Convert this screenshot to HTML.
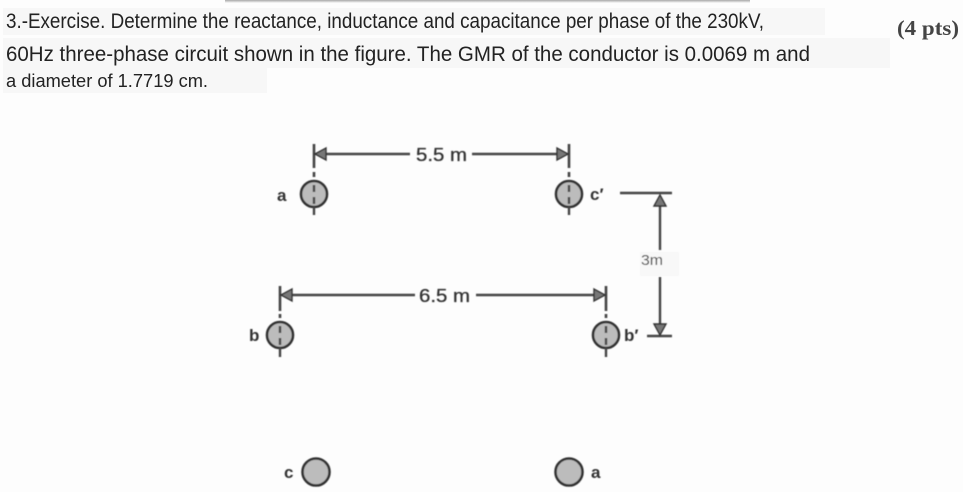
<!DOCTYPE html>
<html>
<head>
<meta charset="utf-8">
<style>
html,body{margin:0;padding:0;background:#fdfdfd}
svg{display:block}
text{font-family:"Liberation Sans",sans-serif;fill:#222}
.b{font-weight:bold;fill:#333}
</style>
</head>
<body>
<svg width="963" height="492" viewBox="0 0 963 492" xmlns="http://www.w3.org/2000/svg">
<defs>
<linearGradient id="s" x1="0" y1="0" x2="0" y2="1"><stop offset="0" stop-color="#a8a8a8"/><stop offset="1" stop-color="#fdfdfd"/></linearGradient>
<filter id="f" x="-5%" y="-5%" width="110%" height="110%"><feGaussianBlur stdDeviation="0.45"/></filter>
<filter id="t" x="-5%" y="-20%" width="110%" height="140%"><feGaussianBlur stdDeviation="0.3"/></filter>
</defs>
<rect width="963" height="492" fill="#fdfdfd"/>
<rect x="225" y="0" width="525" height="3" fill="url(#s)"/>
<rect x="3" y="8" width="822" height="27" fill="#f7f7f7"/>
<rect x="3" y="38" width="887" height="30" fill="#f7f7f7"/>
<rect x="3" y="68" width="264" height="25" fill="#f7f7f7"/>

<g filter="url(#t)">
<text x="6" y="28" font-size="21" textLength="758" lengthAdjust="spacingAndGlyphs">3.-Exercise. Determine the reactance, inductance and capacitance per phase of the 230kV,</text>
<text x="6" y="61" font-size="21.5" textLength="804" lengthAdjust="spacingAndGlyphs">60Hz three-phase circuit shown in the figure. The GMR of the conductor is 0.0069 m and</text>
<text x="6" y="87" font-size="18" textLength="202" lengthAdjust="spacingAndGlyphs">a diameter of 1.7719 cm.</text>
<text x="897" y="35" font-size="21" font-weight="bold" textLength="62" lengthAdjust="spacingAndGlyphs" style="font-family:'Liberation Serif',serif;fill:#444">(4 pts)</text>
</g>

<g filter="url(#f)">
<g stroke="#444" fill="none">
  <path d="M314 144V168M314 172V177" stroke-width="2.6"/>
  <path d="M569 144V168M569 172V177" stroke-width="2.6"/>
  <path d="M325 154H410M472 154H558" stroke-width="2.4"/>
  <path d="M280 286V311M280 314V318" stroke-width="2.6"/>
  <path d="M606 286V311M606 314V318" stroke-width="2.6"/>
  <path d="M292 295H415M476 295H595" stroke-width="2.4"/>
  <path d="M620 193H672" stroke-width="2.4"/>
  <path d="M647 336H672" stroke-width="2.4"/>
  <path d="M660 205V250M660 277V325" stroke-width="2.4"/>
</g>
<g fill="#777" stroke="#333" stroke-width="1.4">
  <path d="M315 154L326 148V160Z"/>
  <path d="M568 154L557 148V160Z"/>
  <path d="M281 295L292 289V301Z"/>
  <path d="M605 295L594 289V301Z"/>
  <path d="M660 195L654 206H666Z"/>
  <path d="M660 335L654 324H666Z"/>
</g>

<g fill="#bcbcbc" stroke="#333" stroke-width="2.6">
  <circle cx="314" cy="194" r="13"/>
  <circle cx="569" cy="194" r="13"/>
  <circle cx="280" cy="335" r="13"/>
  <circle cx="606" cy="335" r="13"/>
  <circle cx="316" cy="472" r="13.5"/>
  <circle cx="569" cy="472" r="13.5"/>
</g>
<g stroke="#444" stroke-width="2.4" fill="none">
  <path d="M314 185V192M314 197V204M314 207V215"/>
  <path d="M569 185V192M569 197V204M569 207V215"/>
  <path d="M280 326V333M280 338V345M280 348V357"/>
  <path d="M606 326V333M606 338V345M606 348V357"/>
</g>

<text class="b" x="277" y="201" font-size="17">a</text>
<text class="b" x="249" y="341" font-size="17">b</text>
<text class="b" x="590" y="200" font-size="17">c′</text>
<text class="b" x="624" y="341" font-size="17">b′</text>
<text class="b" x="284" y="478" font-size="17">c</text>
<text class="b" x="591" y="478" font-size="17">a</text>

<text x="416" y="161" font-size="18" style="fill:#333;stroke:#333;stroke-width:0.3" textLength="51" lengthAdjust="spacingAndGlyphs">5.5 m</text>
<text x="419" y="302" font-size="18" style="fill:#333;stroke:#333;stroke-width:0.3" textLength="51" lengthAdjust="spacingAndGlyphs">6.5 m</text>
<rect x="640" y="252" width="39" height="24" fill="#f8f8f8"/>
<text x="641" y="265" font-size="15" style="fill:#444" textLength="22" lengthAdjust="spacingAndGlyphs">3m</text>
</g>
</svg>
</body>
</html>
